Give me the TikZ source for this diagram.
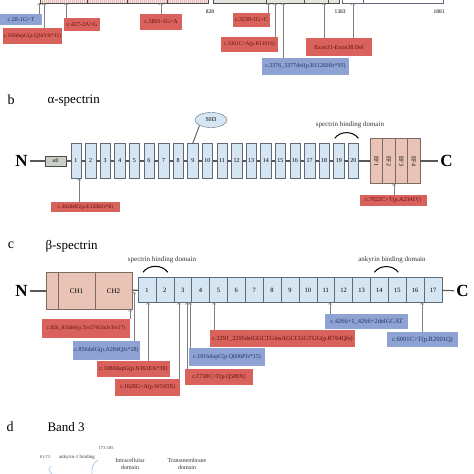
\documentclass[tikz,border=0pt]{standalone}
\usepackage{fontspec}
\setmainfont{Liberation Serif}
\usepackage{tikz}
\usetikzlibrary{positioning, arrows, calc, shapes.geometric}
\definecolor{mut-red}{HTML}{D9625C}
\definecolor{mut-redtext}{HTML}{5E0F0F}
\definecolor{mut-blue}{HTML}{8EA3D4}
\definecolor{mut-bluetext}{HTML}{24335E}
\definecolor{rep-fill}{HTML}{D5E5F2}
\definecolor{rep-line}{HTML}{5F6B78}
\definecolor{ch-fill}{HTML}{E9C3B5}
\definecolor{ch-line}{HTML}{7D6A63}
\definecolor{arrow-grey}{HTML}{7F7F7F}
\definecolor{bar-grey}{HTML}{E3E5DF}
\definecolor{alpha-grey}{HTML}{C9CEC6}
\definecolor{hatch-fill}{HTML}{F7E8E5}
\definecolor{hatch-line}{HTML}{E8BDB7}
\definecolor{memb-blue}{HTML}{AFCBE8}

\begin{document}
\begin{tikzpicture}[x=1pt, y=-1pt,
		mutred/.style={fill=mut-red, text=mut-redtext, inner sep=0.5pt, font=\fontsize{6}{7}\selectfont},
		mutblue/.style={fill=mut-blue, text=mut-bluetext, inner sep=0.5pt, font=\fontsize{6}{7}\selectfont},
		mutarr/.style={->, draw=arrow-grey, line width=0.6pt},
		rep/.style={draw=rep-line, fill=rep-fill, inner sep=0pt, font=\fontsize{6}{7}\selectfont},
		chbox/.style={draw=ch-line, fill=ch-fill, inner sep=0pt, font=\fontsize{7}{8}\selectfont},
		backbone/.style={draw=black!65, line width=1.2pt},
		domarc/.style={draw=black, line width=1pt},
		term/.style={font=\bfseries\fontsize{17}{20}\selectfont, inner sep=2pt},
		panel/.style={font=\fontsize{14}{16}\selectfont},
		protein/.style={font=\fontsize{13}{15}\selectfont, anchor=west},
		domtext/.style={font=\fontsize{7}{8}\selectfont, text=black!80},
		barline/.style={draw=black!70, line width=0.5pt}]
	\useasboundingbox (0,0) rectangle (474,474);
	\clip (0,0) rectangle (474,474);

	% panel a (cut by the top edge)
	\fill[hatch-fill] (40,-20) rectangle (208,3);
	\foreach \x in {42,44,...,206}
		\draw[hatch-line, line width=0.4pt] (\x,-20) -- (\x,3);
	\draw[barline] (40,-20) rectangle (208,3);
	\foreach \x in {87,127,167}
		\draw[barline] (\x,-20) -- (\x,3);
	\filldraw[fill=bar-grey, barline] (213,-20) rectangle (339,3);
	\foreach \x in {266,304,328}
		\draw[barline] (\x,-20) -- (\x,3);
	\draw[barline, draw=rep-line] (342,-20) rectangle (443,3);
	\draw[barline, draw=rep-line] (363,-20) -- (363,3);
	\node[font=\fontsize{5.5}{6}\selectfont] (n828) at (210,12) {828};
	\node[font=\fontsize{5.5}{6}\selectfont] (n1383) at (340,12) {1383};
	\node[font=\fontsize{5.5}{6}\selectfont] (n1881) at (439,12) {1881};

	\node[mutblue, minimum width=42pt, minimum height=11pt] (m28) at (21,19.5) {c.28-1G>T};
	\node[mutred, minimum width=59pt, minimum height=16pt, font=\fontsize{5.5}{6}\selectfont] (m106) at (32.5,36) {c.106dupG(p.Q36Yfs*11)};
	\node[mutred, minimum width=36pt, minimum height=13pt] (m427) at (82,24.5) {c.427-2A>G};
	\node[mutred, minimum width=42pt, minimum height=16pt] (m1801) at (161,22) {c.1801-1G>A};
	\node[mutred, minimum width=37pt, minimum height=14pt] (m3239) at (251.5,20) {c.3239-1G>C};
	\node[mutred, minimum width=57pt, minimum height=15pt, font=\fontsize{5.5}{6}\selectfont] (m3301) at (249.5,44.5) {c.3301C>A(p.R1101S)};
	\node[mutblue, minimum width=87pt, minimum height=17pt] (m3376) at (305.5,66.5) {c.3376\_3377del(p.R1126Hfs*95)};
	\node[mutred, minimum width=66pt, minimum height=18pt] (mexon) at (339,47) {Exon31-Exon38 Del};

	\coordinate (t28) at (39,3);
	\coordinate (t106) at (44,3);
	\coordinate (t427) at (66,3);
	\coordinate (t1801) at (161,3);
	\coordinate (t3239) at (268,3);
	\coordinate (t3301) at (275,3);
	\coordinate (t3376) at (283,3);
	\coordinate (texa) at (324,3);
	\coordinate (texb) at (353,3);
	\draw[mutarr] (m28.north -| t28) -- (t28);
	\draw[mutarr] (m106.north -| t106) -- (t106);
	\draw[mutarr] (m427.north -| t427) -- (t427);
	\draw[mutarr] (m1801.north -| t1801) -- (t1801);
	\draw[mutarr] (m3239.north -| t3239) -- (t3239);
	\draw[mutarr] (m3301.north -| t3301) -- (t3301);
	\draw[mutarr] (m3376.north -| t3376) -- (t3376);
	\draw[mutarr] (mexon.north -| texa) -- (texa);
	\draw[mutarr] (mexon.north -| texb) -- (texb);

	% panel b: alpha-spectrin
	\node[panel] (lb) at (11,100) {b};
	\node[protein] (pb) at (44,101) {α-spectrin};
	\node[term] (Nb) at (21.5,161) {N};
	\node[draw=black!70, fill=alpha-grey, minimum width=21pt, minimum height=10pt, inner sep=0pt, font=\fontsize{5.5}{6}\selectfont] (alpha0) at (55.5,161) {α0};
	\foreach \i in {1,...,20}
		\node[rep, minimum width=10.5pt, minimum height=35pt] (a\i) at ({61.35+14.6*\i},161) {\i};
	\foreach \i in {1,...,4}
		\node[chbox, minimum width=12.5pt, minimum height=45pt, font=\fontsize{6}{7}\selectfont] (ef\i) at ({363.75+12.5*\i},161) {\rotatebox{-90}{EF\i}};
	\node[term] (Cb) at (446.5,161) {C};
	\draw[backbone] (Nb) -- (alpha0);
	\draw[backbone] (alpha0) -- (a1);
	\foreach \i [evaluate=\i as \j using int(\i+1)] in {1,...,19}
		\draw[backbone] (a\i) -- (a\j);
	\draw[backbone] (a20) -- (ef1);
	\draw[backbone] (ef4) -- (Cb);
	\node[ellipse, draw=rep-line, fill=rep-fill, minimum width=32pt, minimum height=15pt, inner sep=0pt, font=\fontsize{6}{7}\selectfont] (sh3) at (211,120) {SH3};
	\draw[backbone, line width=0.9pt] (a9.north) -- (sh3.south west);
	\node[domtext] (sbdb) at (350,125) {spectrin binding domain};
	\draw[domarc] ([xshift=-4pt,yshift=5pt]a19.north) to[bend left=55] ([xshift=5pt,yshift=5pt]a20.north);

	\node[mutred, minimum width=69pt, minimum height=10pt, font=\fontsize{5.5}{6}\selectfont] (m382) at (85.5,207) {c.382delG(p.E128Kfs*6)};
	\node[mutred, minimum width=67pt, minimum height=11pt] (m7022) at (393.5,200.5) {c.7022C>T(p.A2341V)};
	\coordinate (t382) at (79,178.5);
	\coordinate (t7022) at (394,183.5);
	\draw[mutarr] (m382.north -| t382) -- (t382);
	\draw[mutarr] (m7022.north -| t7022) -- (t7022);

	% panel c: beta-spectrin
	\node[panel] (lc) at (11,245) {c};
	\node[protein] (pc) at (42,246) {β-spectrin};
	\node[term] (Nc) at (21.5,291) {N};
	\node[chbox, minimum width=86pt, minimum height=37pt] (ch) at (89,291) {};
	\draw[draw=ch-line] (ch.north west) ++(12,0) -- ++(0,37);
	\draw[draw=ch-line] (ch.north west) ++(49,0) -- ++(0,37);
	\node[font=\fontsize{7}{8}\selectfont] (ch1) at (76.5,291) {CH1};
	\node[font=\fontsize{7}{8}\selectfont] (ch2) at (113.5,291) {CH2};
	\foreach \i in {1,...,17}
		\node[rep, minimum width=17.88pt, minimum height=25pt, font=\fontsize{6.5}{7}\selectfont] (s\i) at ({129.06+17.88*\i},290) {\i};
	\node[term] (Cc) at (462.5,291) {C};
	\draw[backbone] (Nc) -- (ch);
	\draw[backbone] (ch) -- (s1);
	\draw[backbone] (s17) -- (Cc);
	\node[domtext] (sbdc) at (162,260) {spectrin binding domain};
	\draw[domarc] ([xshift=-4pt,yshift=5pt]s1.north) to[bend left=55] ([xshift=3pt,yshift=5pt]s2.north);
	\node[domtext] (abd) at (392,260) {ankyrin binding domain};
	\draw[domarc] ([xshift=-5pt,yshift=5pt]s14.north) to[bend left=55] ([xshift=1pt,yshift=5pt]s15.north);

	\node[mutred, minimum width=88pt, minimum height=19pt, font=\fontsize{5.5}{6}\selectfont] (m826) at (86,328.5) {c.826\_833del(p.Tyr276GlnfsTer17)};
	\node[mutblue, minimum width=67pt, minimum height=19pt] (m856) at (106.5,350.5) {c.856delG(p.A284Qfs*28)};
	\node[mutred, minimum width=73pt, minimum height=16pt] (m1080) at (133.5,369) {c.1080dupG(p.N361Efs*30)};
	\node[mutred, minimum width=65pt, minimum height=17pt] (m1628) at (147.5,387.5) {c.1628G>A(p.W543X)};
	\node[mutred, minimum width=68pt, minimum height=16pt] (m1738) at (219,377) {c.1738C>T(p.Q580X)};
	\node[mutblue, minimum width=76pt, minimum height=18pt] (m1816) at (227,357) {c.1816dupC(p.Q606Pfs*15)};
	\node[mutred, minimum width=145pt, minimum height=17pt, font=\fontsize{6.3}{7}\selectfont] (m2291) at (282.5,338.5) {c.2291\_2295delGGCTGinsAGCCGGTGG(p.R764Qfs)};
	\node[mutblue, minimum width=83pt, minimum height=15pt, font=\fontsize{6.5}{7}\selectfont] (m4266) at (366.5,321.5) {c.4266+1\_4266+2delGCAT};
	\node[mutblue, minimum width=71pt, minimum height=15pt, font=\fontsize{6.5}{7}\selectfont] (m6001) at (422.5,339.5) {c.6001C>T(p.R2001Q)};

	\coordinate (t826) at (130,309.5);
	\coordinate (t856) at (134,292);
	\coordinate (t1080) at (148,302.5);
	\coordinate (t1628) at (179,302.5);
	\coordinate (t1738) at (187,302.5);
	\coordinate (t1816) at (190,302.5);
	\coordinate (t2291) at (214,302.5);
	\coordinate (t4266) at (330,302.5);
	\coordinate (t6001) at (422,302.5);
	\draw[mutarr] (m826.north -| t826) -- (t826);
	\draw[mutarr] (m856.north -| t856) -- (t856);
	\draw[mutarr] (m1080.north -| t1080) -- (t1080);
	\draw[mutarr] (m1628.north -| t1628) -- (t1628);
	\draw[mutarr] (m1738.north -| t1738) -- (t1738);
	\draw[mutarr] (m1816.north -| t1816) -- (t1816);
	\draw[mutarr] (m2291.north -| t2291) -- (t2291);
	\draw[mutarr] (m4266.north -| t4266) -- (t4266);
	\draw[mutarr] (m6001.north -| t6001) -- (t6001);

	% panel d: band 3 (cut by the bottom edge)
	\node[panel] (ld) at (10,427) {d};
	\node[protein] (pd) at (44,427) {Band 3};
	\node[font=\fontsize{4.5}{5}\selectfont, text=black!75] (r6173) at (45,457) {61-73};
	\node[font=\fontsize{5}{6}\selectfont, text=black!75] (ank1) at (77,457) {ankyrin-1 binding};
	\node[font=\fontsize{4.5}{5}\selectfont, text=black!75] (r173) at (106,448) {173-185};
	\node[font=\fontsize{6}{6.5}\selectfont, align=center, text=black!80] (intra) at (130,464) {Intracellular\\domain};
	\node[font=\fontsize{6}{6.5}\selectfont, align=center, text=black!80] (trans) at (187,464) {Transmembrane\\domain};
	\draw[memb-blue, line width=0.8pt] (51,466) .. controls (48,470) .. (53,475);
	\draw[memb-blue, line width=0.8pt] (98,460) .. controls (92,465) .. (92,475);
\end{tikzpicture}
\end{document}
